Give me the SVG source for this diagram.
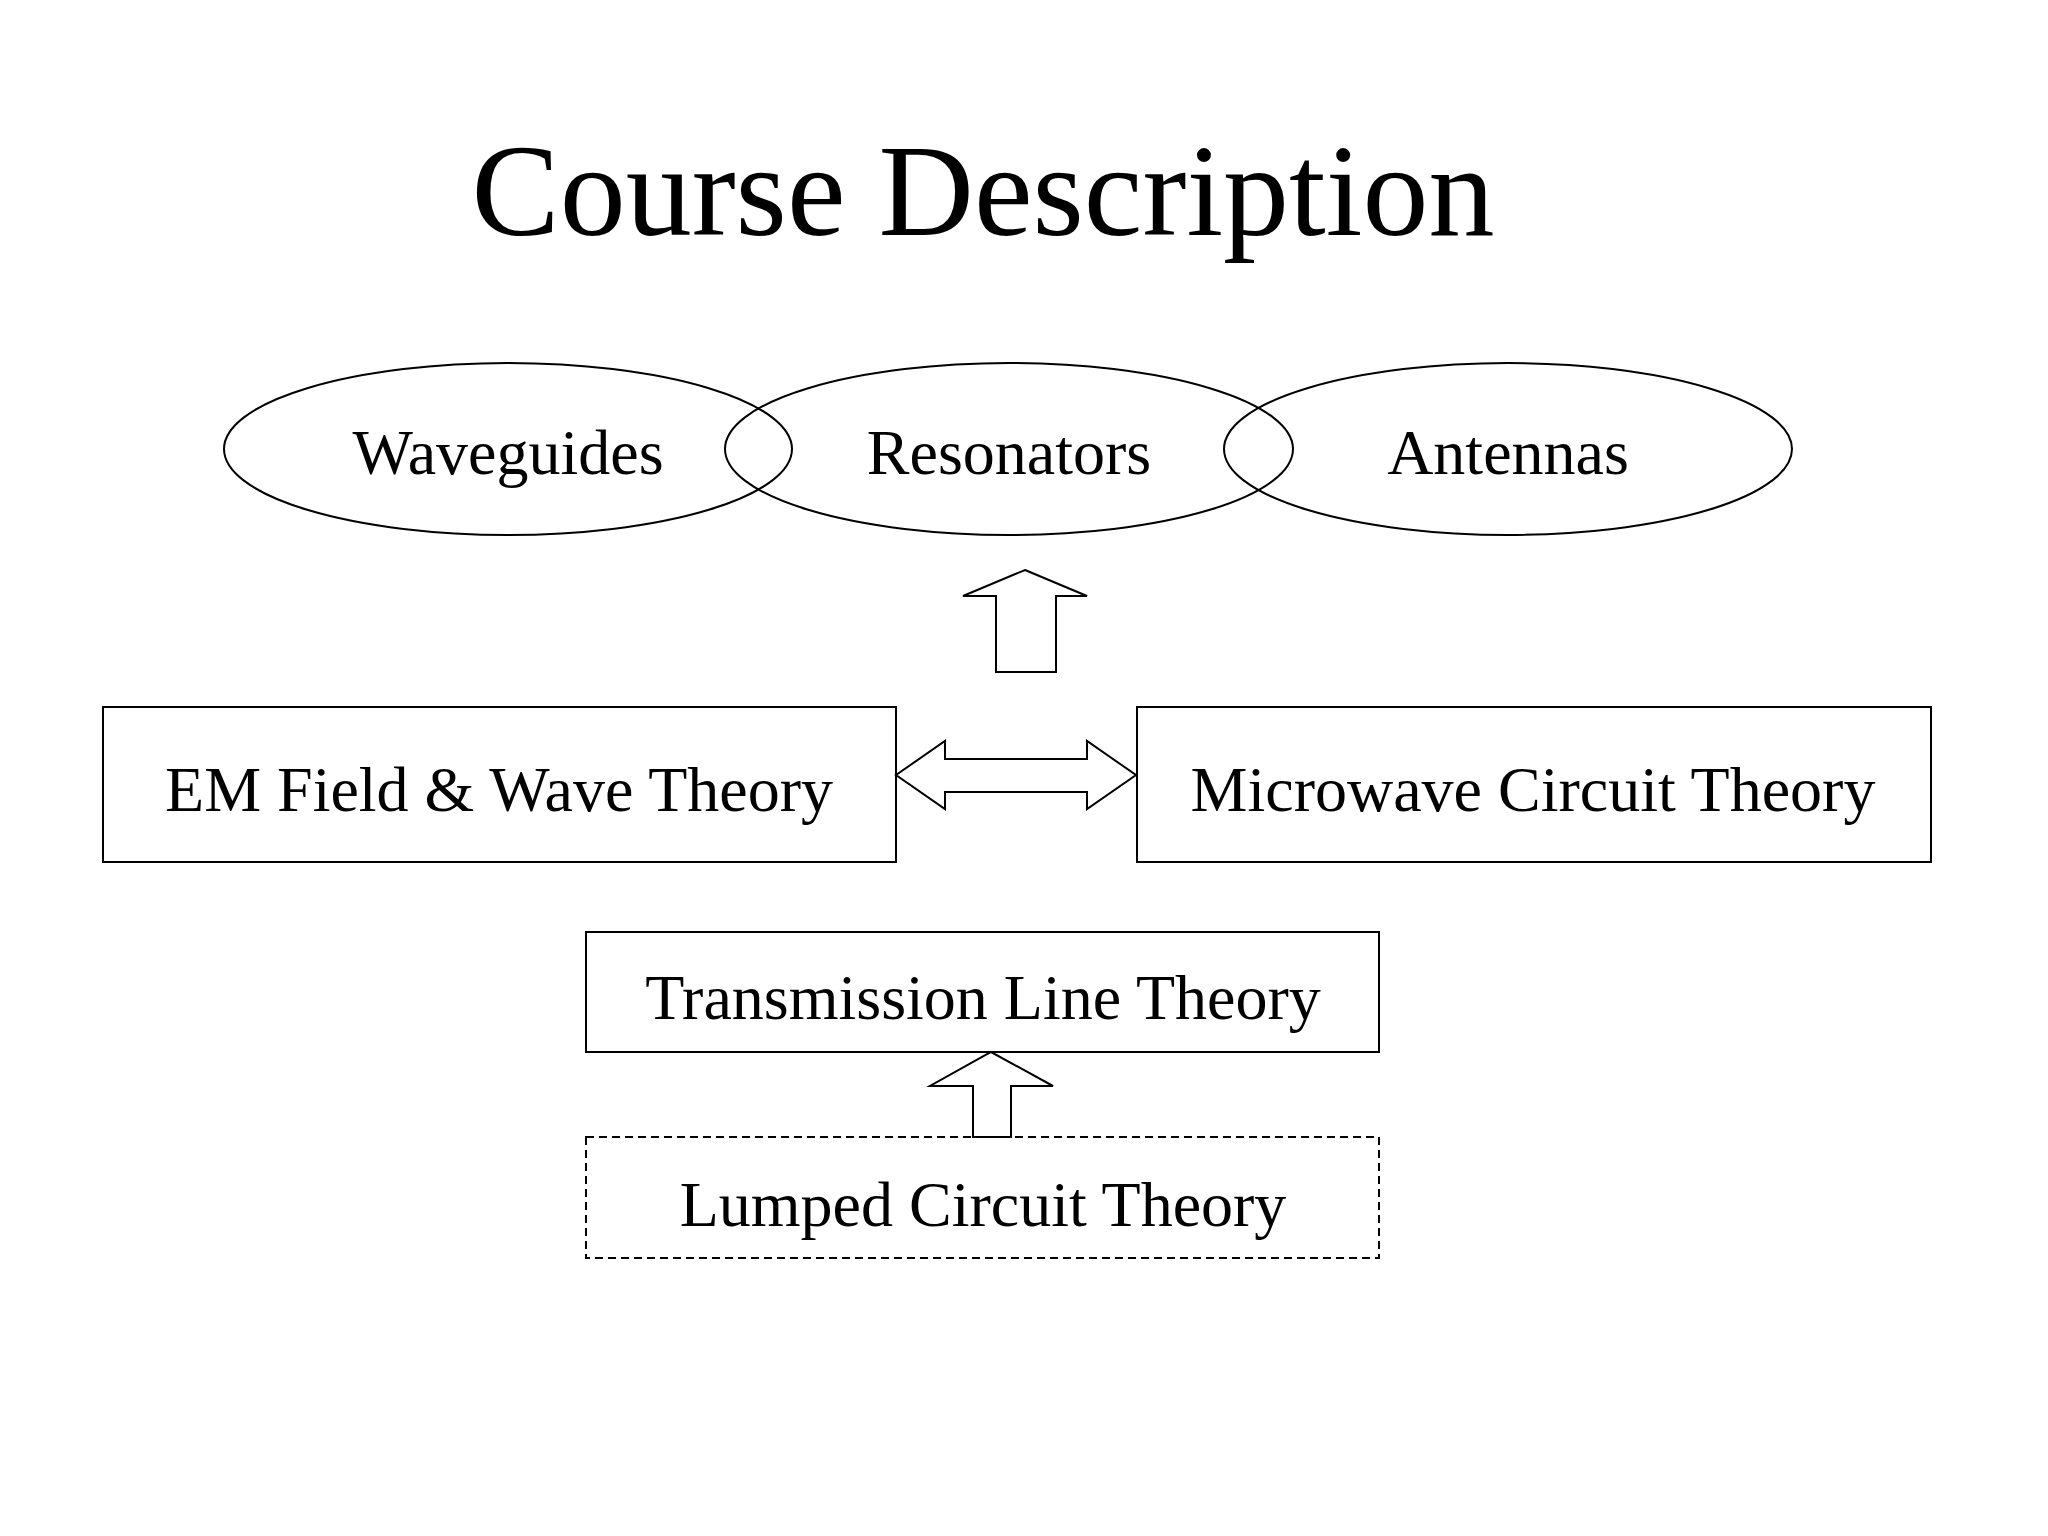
<svg xmlns="http://www.w3.org/2000/svg" width="2048" height="1536" viewBox="0 0 2048 1536">
<style>
.s{fill:none;stroke:#000;stroke-width:2}
.t{font-family:"Liberation Serif",serif;font-size:64px;text-anchor:middle;fill:#000}
</style>
<rect width="2048" height="1536" fill="#fff"/>
<text x="983" y="235" class="t" style="font-size:132px">Course Description</text>
<g id="waveguides"><ellipse cx="508" cy="449" rx="284" ry="86" class="s"/><text x="508" y="474" class="t">Waveguides</text></g>
<g id="resonators"><ellipse cx="1009" cy="449" rx="284" ry="86" class="s"/><text x="1009" y="474" class="t">Resonators</text></g>
<g id="antennas"><ellipse cx="1508" cy="449" rx="284" ry="86" class="s"/><text x="1508" y="474" class="t">Antennas</text></g>
<g id="em"><rect x="103" y="707" width="793" height="155" class="s"/><text x="499" y="811" class="t">EM Field &amp; Wave Theory</text></g>
<g id="microwave"><rect x="1137" y="707" width="794" height="155" class="s"/><text x="1533" y="811" class="t">Microwave Circuit Theory</text></g>
<g id="tl"><rect x="586" y="932" width="793" height="120" class="s"/><text x="983" y="1019" class="t">Transmission Line Theory</text></g>
<g id="lumped"><rect x="586" y="1137" width="793" height="121" class="s" stroke-dasharray="8,5"/><text x="983" y="1226" class="t">Lumped Circuit Theory</text></g>
<g id="connectors">
<polygon class="s" points="1025,570 1087,596 1056,596 1056,672 996,672 996,596 963,596"/>
<polygon class="s" points="896,775 945,741 945,759 1087,759 1087,741 1136,775 1087,809 1087,792 945,792 945,809"/>
<polygon class="s" points="991,1052 1053,1086 1011,1086 1011,1137 973,1137 973,1086 930,1086"/>
</g>
</svg>
